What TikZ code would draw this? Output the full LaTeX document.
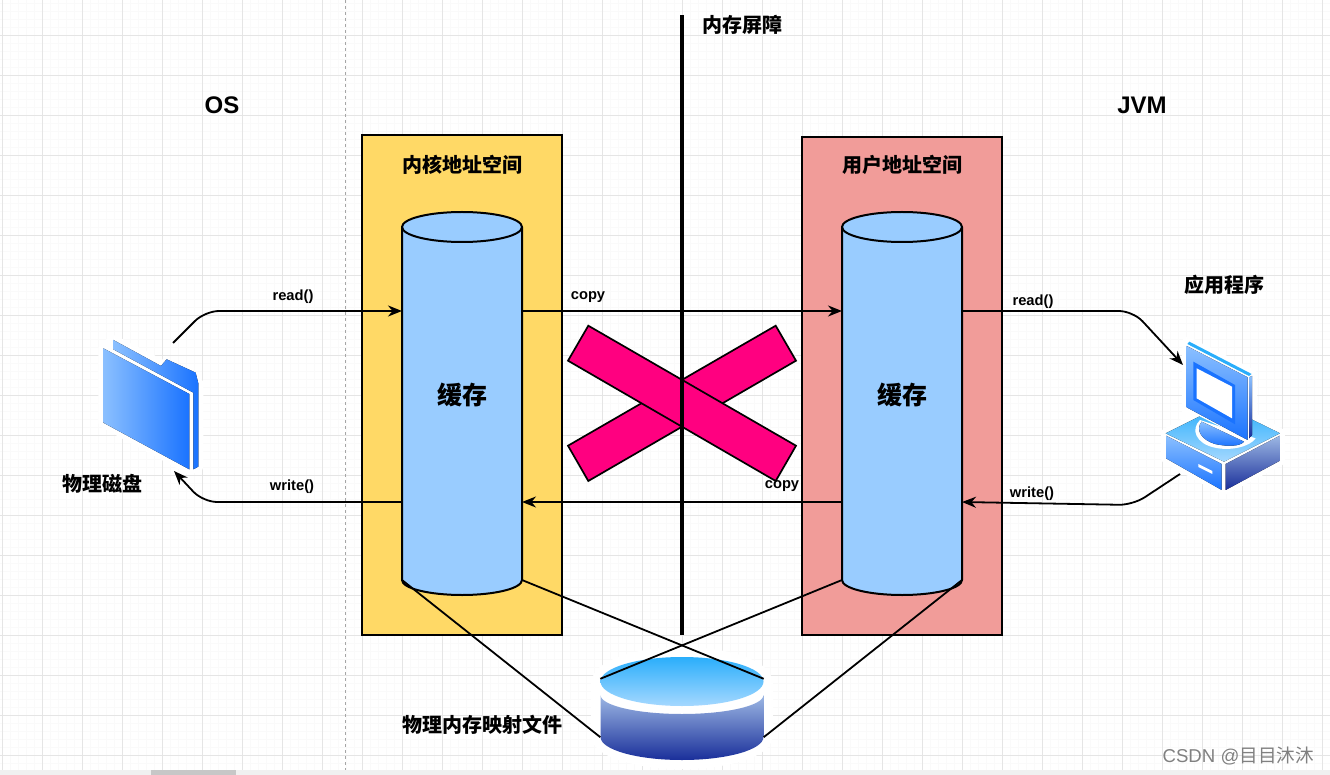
\documentclass[tikz,border=0pt]{standalone}
\usepackage{fontspec}
\usepackage{tikz}
\usetikzlibrary{arrows.meta,calc}
\setmainfont{Liberation Sans}
\newfontfamily\cjk{Noto Sans CJK SC}
\definecolor{kernelfill}{HTML}{FFD966}
\definecolor{userfill}{HTML}{F19C99}
\definecolor{cachefill}{HTML}{99CCFF}
\definecolor{crossfill}{HTML}{FF0080}
\definecolor{skyblue}{HTML}{2AAEFB}
\definecolor{paleblue}{HTML}{A5D8FF}
\definecolor{midblue}{HTML}{8BC0FF}
\definecolor{deepblue}{HTML}{1A73FF}
\definecolor{navyblue}{HTML}{1A2F9A}
\definecolor{steelblue}{HTML}{9DB8E4}
\tikzset{
  spacebox/.style={draw=black,line width=2pt,minimum width=200pt,inner sep=0pt,outer sep=0pt},
  cache/.style={minimum width=120pt,minimum height=383pt,inner sep=0pt,outer sep=0pt},
  drum/.style={draw=black,line width=2pt,fill=cachefill},
  flow/.style={line width=1.8pt,rounded corners=14pt,-{Stealth[length=14pt,width=11pt]}},
  mapline/.style={line width=1.8pt},
  crossbar/.style={line width=1.7pt,fill=crossfill},
  cjktitle/.style={font=\cjk\bfseries\fontsize{20}{24}\selectfont,inner sep=0pt},
  cachetext/.style={font=\cjk\bfseries\fontsize{25}{30}\selectfont},
  headtext/.style={font=\bfseries\fontsize{24}{28}\selectfont,inner sep=0pt},
  calltext/.style={font=\bfseries\fontsize{14.7}{17}\selectfont,inner sep=0pt},
  halo/.style={draw=white,fill=white,line width=10pt,line join=round},
}
\begin{document}
\begin{tikzpicture}[x=1pt,y=-1pt]
\useasboundingbox (0,0) rectangle (1330,775);
\fill[white] (0,0) rectangle (1330,775);
% grid
\foreach \i in {0,...,166} {\draw[line width=.6pt,black!2] ({2+8*\i},0) -- ({2+8*\i},770);}
\foreach \i in {0,...,96} {\draw[line width=.6pt,black!2] (0,{3+8*\i}) -- (1330,{3+8*\i});}
\foreach \i in {0,...,33} {\draw[line width=.8pt,black!10] ({2+40*\i},0) -- ({2+40*\i},770);}
\foreach \i in {0,...,19} {\draw[line width=.8pt,black!10] (0,{-5+40*\i}) -- (1330,{-5+40*\i});}
\draw[line width=.7pt,black!35,dash pattern=on 3pt off 3pt] (345,0) -- (345,770);
\fill[black!6] (0,770) rectangle (1330,775);
\fill[black!22] (151,770) rectangle (236,775);
% the two address spaces
\node[spacebox,fill=kernelfill,minimum height=500pt] (kernelspace) at (462,385) {};
\node[spacebox,fill=userfill,minimum height=498pt] (userspace) at (902,386) {};
\node[cjktitle] (kerneltitle) at (462,165) {内核地址空间};
\node[cjktitle] (usertitle) at (902,165) {用户地址空间};
\node[cache] (kernelcache) at (462,403.5) {};
\node[cache] (usercache) at (902,403.5) {};
\foreach \c in {kernelcache,usercache} {
  \draw[drum] ($(\c.north west)+(0,15)$) arc[start angle=180,end angle=360,x radius=60,y radius=15]
    -- ($(\c.south east)+(0,-15)$) arc[start angle=0,end angle=180,x radius=60,y radius=15] -- cycle;
  \draw[line width=2pt] ($(\c.north west)+(0,15)$) arc[start angle=180,end angle=0,x radius=60,y radius=15];
}
\node[cachetext] (kerneltext) at (462,395) {缓存};
\node[cachetext] (usertext) at (902,395) {缓存};
% cross and barrier
\draw[crossbar] (775.7,325.7) -- (796,360.7) -- (588.3,481) -- (568,445.7) -- cycle;
\draw[crossbar] (588.3,325.7) -- (796,445.7) -- (775.7,481) -- (568,360.7) -- cycle;
\node[inner sep=0pt] (barriertop) at (682,15) {};
\node[inner sep=0pt] (barrierend) at (682,635) {};
\draw[line width=4pt] (barriertop.center) -- (barrierend.center);
\node[cjktitle] (barriertext) at (742,25) {内存屏障};
% rows where the connectors leave the cylinders
\coordinate (readrow) at (0,311);
\coordinate (writerow) at (0,502);
\coordinate (baserow) at (0,580);
% folder icon
\node[inner sep=0pt,minimum width=96pt,minimum height=130pt] (disk) at (151,405) {};
\begin{scope}[shift={(60,270)},x=.3333pt,y=-.3333pt]
\path[halo] (160,210) -- (415,340) -- (415,590) -- (388,598) -- (130,458) -- (130,235) -- cycle;
\fill[left color=midblue,right color=deepblue] (160,210) -- (303,288) -- (320,268) -- (407,308) -- (415,340) -- (415,590) -- (400,598) -- (400,368) -- (160,238) -- cycle;
\fill[left color=midblue,right color=deepblue] (130,235) -- (388,372) -- (388,598) -- (130,458) -- cycle;
\end{scope}
% computer icon
\node[inner sep=0pt,minimum width=116pt,minimum height=150pt] (computer) at (1223,416) {};
\begin{scope}[shift={(1100,270)},x=.3333pt,y=-.3333pt]
\path[halo] (262,215) -- (456,312) -- (456,440) -- (540,490) -- (540,572) -- (372,660) -- (198,565) -- (198,490) -- (260,455) -- cycle;
\fill[top color=skyblue,bottom color=paleblue] (197,490) -- (367,405) -- (540,490) -- (372,575) -- cycle;
\fill[top color=midblue,bottom color=deepblue] (198,497) -- (365,582) -- (365,660) -- (198,565) -- cycle;
\fill[top color=steelblue,bottom color=navyblue] (377,582) -- (540,497) -- (540,572) -- (377,660) -- cycle;
\fill[white] (295,582) -- (337,603) -- (337,612) -- (295,591) -- cycle;
\fill[white] (300,450) .. controls (270,480) and (290,520) .. (340,532) .. controls (390,545) and (450,530) .. (467,505) -- cycle;
\fill[top color=midblue,bottom color=deepblue] (305,455) .. controls (285,480) and (305,510) .. (345,522) .. controls (380,530) and (420,530) .. (432,515) -- cycle;
\fill[white] (252,215) -- (450,312) -- (450,515) -- (252,415) -- cycle;
\fill[top color=midblue,bottom color=deepblue] (260,228) -- (443,322) -- (443,510) -- (260,412) -- cycle;
\fill[deepblue] (280,275) -- (405,345) -- (405,463) -- (280,390) -- cycle;
\fill[white] (290,295) -- (396,350) -- (396,445) -- (290,385) -- cycle;
\fill[top color=midblue,bottom color=navyblue] (447,322) -- (456,318) -- (456,495) -- (447,505) -- cycle;
\fill[skyblue] (268,215) -- (455,312) -- (447,318) -- (262,222) -- cycle;
\end{scope}
% database icon
\node[inner sep=0pt,minimum width=163pt,minimum height=58pt] (mapfile) at (682,708) {};
\fill[white] (682,681) ellipse (90 and 34);
\fill[white] (591,680) rectangle (773,738);
\fill[white] (682,738) ellipse (90 and 31);
\path[top color=steelblue,bottom color=navyblue] (600.5,695) arc[start angle=180,end angle=0,x radius=81.5,y radius=19] -- (763.5,737) arc[start angle=0,end angle=180,x radius=81.5,y radius=23] -- cycle;
\path[top color=skyblue,bottom color=paleblue] (682,681.5) ellipse (81.5 and 24.5);
% connectors
\coordinate (diskout) at (173,343);
\coordinate (diskin) at (174,471);
\coordinate (computerin) at (1183,365);
\coordinate (computerout) at (1180,474);
\draw[flow] (diskout) -- (205,311) -- (kernelcache.west |- readrow);
\draw[flow] (kernelcache.east |- readrow) -- (usercache.west |- readrow);
\draw[flow] (usercache.east |- readrow) -- (1133,311) -- (computerin);
\draw[flow] (computerout) -- (1133,505) -- (usercache.east |- writerow);
\draw[flow] (usercache.west |- writerow) -- (kernelcache.east |- writerow);
\draw[flow] (kernelcache.west |- writerow) -- (203,502) -- (diskin);
\draw[mapline] (kernelcache.west |- baserow) -- (mapfile.south west);
\draw[mapline] (kernelcache.east |- baserow) -- (mapfile.north east);
\draw[mapline] (usercache.west |- baserow) -- (mapfile.north west);
\draw[mapline] (usercache.east |- baserow) -- (mapfile.south east);
% labels
\node[calltext] (readleft) at (293,297) {read()};
\node[calltext] (copytop) at (588,297) {copy};
\node[calltext] (writeleft) at (292,487) {write()};
\node[calltext] (copylow) at (782,486) {copy};
\node[calltext] (readright) at (1033,302) {read()};
\node[calltext] (writeright) at (1032,494) {write()};
\node[headtext] (ostext) at (222,105) {OS};
\node[headtext] (jvmtext) at (1142,105) {JVM};
\node[cjktitle] (apptext) at (1224,285) {应用程序};
\node[cjktitle] (disktext) at (102,484) {物理磁盘};
\node[cjktitle] (maptext) at (482,725) {物理内存映射文件};
\node[inner sep=0pt,text=black!50,font=\fontsize{18.6}{22}\selectfont,anchor=east] (marktext) at (1314,756) {CSDN @{\cjk 目目沐沐}};
\end{tikzpicture}
\end{document}
